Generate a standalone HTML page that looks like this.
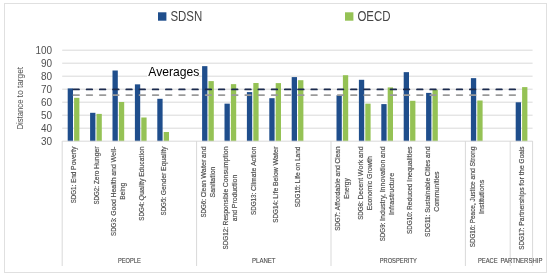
<!DOCTYPE html>
<html><head><meta charset="utf-8"><style>
html,body{margin:0;padding:0;background:#fff;}
body{width:550px;height:276px;overflow:hidden;}
svg{display:block;font-family:"Liberation Sans", sans-serif;will-change:transform;}
</style></head><body>
<svg width="550" height="276" viewBox="0 0 550 276">
<rect x="0" y="0" width="550" height="276" fill="#ffffff"/>
<rect x="4.5" y="3.5" width="542" height="269" fill="none" stroke="#e0e0e0" stroke-width="1"/>
<line x1="62.2" y1="50.20" x2="532.6" y2="50.20" stroke="#d9d9d9" stroke-width="1"/>
<line x1="62.2" y1="63.20" x2="532.6" y2="63.20" stroke="#d9d9d9" stroke-width="1"/>
<line x1="62.2" y1="76.20" x2="532.6" y2="76.20" stroke="#d9d9d9" stroke-width="1"/>
<line x1="62.2" y1="89.20" x2="532.6" y2="89.20" stroke="#d9d9d9" stroke-width="1"/>
<line x1="62.2" y1="102.20" x2="532.6" y2="102.20" stroke="#d9d9d9" stroke-width="1"/>
<line x1="62.2" y1="115.20" x2="532.6" y2="115.20" stroke="#d9d9d9" stroke-width="1"/>
<line x1="62.2" y1="128.20" x2="532.6" y2="128.20" stroke="#d9d9d9" stroke-width="1"/>
<rect x="67.70" y="88.40" width="5.3" height="52.80" fill="#1f4e8c"/>
<rect x="74.10" y="97.80" width="5.3" height="43.40" fill="#95c255"/>
<rect x="90.10" y="112.80" width="5.3" height="28.40" fill="#1f4e8c"/>
<rect x="96.50" y="113.90" width="5.3" height="27.30" fill="#95c255"/>
<rect x="112.50" y="70.50" width="5.3" height="70.70" fill="#1f4e8c"/>
<rect x="118.90" y="102.00" width="5.3" height="39.20" fill="#95c255"/>
<rect x="134.90" y="84.35" width="5.3" height="56.85" fill="#1f4e8c"/>
<rect x="141.30" y="117.50" width="5.3" height="23.70" fill="#95c255"/>
<rect x="157.30" y="98.80" width="5.3" height="42.40" fill="#1f4e8c"/>
<rect x="163.70" y="132.00" width="5.3" height="9.20" fill="#95c255"/>
<rect x="202.10" y="66.15" width="5.3" height="75.05" fill="#1f4e8c"/>
<rect x="208.50" y="81.10" width="5.3" height="60.10" fill="#95c255"/>
<rect x="224.50" y="103.65" width="5.3" height="37.55" fill="#1f4e8c"/>
<rect x="230.90" y="84.15" width="5.3" height="57.05" fill="#95c255"/>
<rect x="246.90" y="92.10" width="5.3" height="49.10" fill="#1f4e8c"/>
<rect x="253.30" y="83.00" width="5.3" height="58.20" fill="#95c255"/>
<rect x="269.30" y="98.20" width="5.3" height="43.00" fill="#1f4e8c"/>
<rect x="275.70" y="83.10" width="5.3" height="58.10" fill="#95c255"/>
<rect x="291.70" y="77.10" width="5.3" height="64.10" fill="#1f4e8c"/>
<rect x="298.10" y="80.20" width="5.3" height="61.00" fill="#95c255"/>
<rect x="336.50" y="95.30" width="5.3" height="45.90" fill="#1f4e8c"/>
<rect x="342.90" y="75.20" width="5.3" height="66.00" fill="#95c255"/>
<rect x="358.90" y="79.80" width="5.3" height="61.40" fill="#1f4e8c"/>
<rect x="365.30" y="103.65" width="5.3" height="37.55" fill="#95c255"/>
<rect x="381.30" y="104.10" width="5.3" height="37.10" fill="#1f4e8c"/>
<rect x="387.70" y="87.40" width="5.3" height="53.80" fill="#95c255"/>
<rect x="403.70" y="72.15" width="5.3" height="69.05" fill="#1f4e8c"/>
<rect x="410.10" y="100.80" width="5.3" height="40.40" fill="#95c255"/>
<rect x="426.10" y="92.90" width="5.3" height="48.30" fill="#1f4e8c"/>
<rect x="432.50" y="89.80" width="5.3" height="51.40" fill="#95c255"/>
<rect x="470.90" y="78.15" width="5.3" height="63.05" fill="#1f4e8c"/>
<rect x="477.30" y="100.50" width="5.3" height="40.70" fill="#95c255"/>
<rect x="515.70" y="102.30" width="5.3" height="38.90" fill="#1f4e8c"/>
<rect x="522.10" y="87.10" width="5.3" height="54.10" fill="#95c255"/>
<line x1="62.2" y1="141.2" x2="532.6" y2="141.2" stroke="#d9d9d9" stroke-width="1"/>
<line x1="62.20" y1="141" x2="62.20" y2="266" stroke="#d9d9d9" stroke-width="1"/>
<line x1="196.60" y1="141" x2="196.60" y2="266" stroke="#d9d9d9" stroke-width="1"/>
<line x1="331.00" y1="141" x2="331.00" y2="266" stroke="#d9d9d9" stroke-width="1"/>
<line x1="465.40" y1="141" x2="465.40" y2="266" stroke="#d9d9d9" stroke-width="1"/>
<line x1="510.20" y1="141" x2="510.20" y2="266" stroke="#d9d9d9" stroke-width="1"/>
<line x1="532.60" y1="141" x2="532.60" y2="266" stroke="#d9d9d9" stroke-width="1"/>
<line x1="73.45" y1="89.4" x2="521.40" y2="89.4" stroke="#1b2a4e" stroke-width="1.9" stroke-linecap="round" stroke-dasharray="5.5 7.716"/>
<line x1="73.45" y1="95.1" x2="521.40" y2="95.1" stroke="#9a9a9a" stroke-width="1.8" stroke-linecap="round" stroke-dasharray="5.6 7.616"/>
<text x="52" y="53.60" font-size="10.6" text-anchor="end" fill="#505050" textLength="16.6" lengthAdjust="spacingAndGlyphs">100</text>
<text x="52" y="66.60" font-size="10.6" text-anchor="end" fill="#505050" textLength="11.1" lengthAdjust="spacingAndGlyphs">90</text>
<text x="52" y="79.60" font-size="10.6" text-anchor="end" fill="#505050" textLength="11.1" lengthAdjust="spacingAndGlyphs">80</text>
<text x="52" y="92.60" font-size="10.6" text-anchor="end" fill="#505050" textLength="11.1" lengthAdjust="spacingAndGlyphs">70</text>
<text x="52" y="105.60" font-size="10.6" text-anchor="end" fill="#505050" textLength="11.1" lengthAdjust="spacingAndGlyphs">60</text>
<text x="52" y="118.60" font-size="10.6" text-anchor="end" fill="#505050" textLength="11.1" lengthAdjust="spacingAndGlyphs">50</text>
<text x="52" y="131.60" font-size="10.6" text-anchor="end" fill="#505050" textLength="11.1" lengthAdjust="spacingAndGlyphs">40</text>
<text x="52" y="144.60" font-size="10.6" text-anchor="end" fill="#505050" textLength="11.1" lengthAdjust="spacingAndGlyphs">30</text>
<g transform="translate(23.2,129.60) rotate(-90)"><text x="0.00" y="0" font-size="8.4" fill="#505050" textLength="30.16" lengthAdjust="spacingAndGlyphs">Distance</text><text x="32.11" y="0" font-size="8.4" fill="#505050" textLength="7.44" lengthAdjust="spacingAndGlyphs">to</text><text x="41.50" y="0" font-size="8.4" fill="#505050" textLength="21.29" lengthAdjust="spacingAndGlyphs">target</text></g>
<rect x="158" y="12.3" width="8.4" height="8.4" fill="#1f4e8c"/>
<text x="170.4" y="20.7" font-size="14" fill="#454545" textLength="31.8" lengthAdjust="spacingAndGlyphs">SDSN</text>
<rect x="345" y="12.3" width="8.4" height="8.4" fill="#95c255"/>
<text x="357.4" y="20.7" font-size="14" fill="#454545" textLength="33.1" lengthAdjust="spacingAndGlyphs">OECD</text>
<rect x="147" y="64" width="51.5" height="17" fill="#ffffff" fill-opacity="0.75"/>
<text x="148.3" y="75.6" font-size="13.2" fill="#000000" textLength="51" lengthAdjust="spacingAndGlyphs">Averages</text>
<g transform="translate(76.30,203.36) rotate(-90)" stroke="#505050" stroke-width="0.18"><text x="0.00" y="0" font-size="7.6" fill="#505050" textLength="18.55" lengthAdjust="spacingAndGlyphs">SDG1:</text><text x="20.24" y="0" font-size="7.6" fill="#505050" textLength="11.50" lengthAdjust="spacingAndGlyphs">End</text><text x="33.44" y="0" font-size="7.6" fill="#505050" textLength="23.42" lengthAdjust="spacingAndGlyphs">Poverty</text></g>
<g transform="translate(98.70,204.58) rotate(-90)" stroke="#505050" stroke-width="0.18"><text x="0.00" y="0" font-size="7.6" fill="#505050" textLength="18.55" lengthAdjust="spacingAndGlyphs">SDG2:</text><text x="20.24" y="0" font-size="7.6" fill="#505050" textLength="13.78" lengthAdjust="spacingAndGlyphs">Zero</text><text x="35.71" y="0" font-size="7.6" fill="#505050" textLength="22.37" lengthAdjust="spacingAndGlyphs">Hunger</text></g>
<g transform="translate(116.30,235.99) rotate(-90)" stroke="#505050" stroke-width="0.18"><text x="0.00" y="0" font-size="7.6" fill="#505050" textLength="18.55" lengthAdjust="spacingAndGlyphs">SDG3:</text><text x="20.24" y="0" font-size="7.6" fill="#505050" textLength="16.53" lengthAdjust="spacingAndGlyphs">Good</text><text x="38.46" y="0" font-size="7.6" fill="#505050" textLength="20.11" lengthAdjust="spacingAndGlyphs">Health</text><text x="60.27" y="0" font-size="7.6" fill="#505050" textLength="11.44" lengthAdjust="spacingAndGlyphs">and</text><text x="73.39" y="0" font-size="7.6" fill="#505050" textLength="16.10" lengthAdjust="spacingAndGlyphs">Well-</text></g>
<g transform="translate(125.20,199.72) rotate(-90)" stroke="#505050" stroke-width="0.18"><text x="0.00" y="0" font-size="7.6" fill="#505050" textLength="16.96" lengthAdjust="spacingAndGlyphs">Being</text></g>
<g transform="translate(143.50,220.63) rotate(-90)" stroke="#505050" stroke-width="0.18"><text x="0.00" y="0" font-size="7.6" fill="#505050" textLength="18.55" lengthAdjust="spacingAndGlyphs">SDG4:</text><text x="20.24" y="0" font-size="7.6" fill="#505050" textLength="21.86" lengthAdjust="spacingAndGlyphs">Quality</text><text x="43.80" y="0" font-size="7.6" fill="#505050" textLength="30.34" lengthAdjust="spacingAndGlyphs">Education</text></g>
<g transform="translate(165.90,215.47) rotate(-90)" stroke="#505050" stroke-width="0.18"><text x="0.00" y="0" font-size="7.6" fill="#505050" textLength="18.55" lengthAdjust="spacingAndGlyphs">SDG5:</text><text x="20.24" y="0" font-size="7.6" fill="#505050" textLength="22.63" lengthAdjust="spacingAndGlyphs">Gender</text><text x="44.57" y="0" font-size="7.6" fill="#505050" textLength="24.41" lengthAdjust="spacingAndGlyphs">Equality</text></g>
<g transform="translate(205.90,217.57) rotate(-90)" stroke="#505050" stroke-width="0.18"><text x="0.00" y="0" font-size="7.6" fill="#505050" textLength="18.55" lengthAdjust="spacingAndGlyphs">SDG6:</text><text x="20.24" y="0" font-size="7.6" fill="#505050" textLength="16.93" lengthAdjust="spacingAndGlyphs">Clean</text><text x="38.87" y="0" font-size="7.6" fill="#505050" textLength="19.08" lengthAdjust="spacingAndGlyphs">Water</text><text x="59.64" y="0" font-size="7.6" fill="#505050" textLength="11.44" lengthAdjust="spacingAndGlyphs">and</text></g>
<g transform="translate(214.80,197.45) rotate(-90)" stroke="#505050" stroke-width="0.18"><text x="0.00" y="0" font-size="7.6" fill="#505050" textLength="30.83" lengthAdjust="spacingAndGlyphs">Sanitation</text></g>
<g transform="translate(228.30,249.43) rotate(-90)" stroke="#505050" stroke-width="0.18"><text x="0.00" y="0" font-size="7.6" fill="#505050" textLength="22.34" lengthAdjust="spacingAndGlyphs">SDG12:</text><text x="24.03" y="0" font-size="7.6" fill="#505050" textLength="36.51" lengthAdjust="spacingAndGlyphs">Responsible</text><text x="62.23" y="0" font-size="7.6" fill="#505050" textLength="40.70" lengthAdjust="spacingAndGlyphs">Consumption</text></g>
<g transform="translate(237.20,221.29) rotate(-90)" stroke="#505050" stroke-width="0.18"><text x="0.00" y="0" font-size="7.6" fill="#505050" textLength="11.44" lengthAdjust="spacingAndGlyphs">and</text><text x="13.13" y="0" font-size="7.6" fill="#505050" textLength="33.53" lengthAdjust="spacingAndGlyphs">Production</text></g>
<g transform="translate(255.50,215.01) rotate(-90)" stroke="#505050" stroke-width="0.18"><text x="0.00" y="0" font-size="7.6" fill="#505050" textLength="22.34" lengthAdjust="spacingAndGlyphs">SDG13:</text><text x="24.03" y="0" font-size="7.6" fill="#505050" textLength="23.20" lengthAdjust="spacingAndGlyphs">Climate</text><text x="48.93" y="0" font-size="7.6" fill="#505050" textLength="19.58" lengthAdjust="spacingAndGlyphs">Action</text></g>
<g transform="translate(277.90,222.65) rotate(-90)" stroke="#505050" stroke-width="0.18"><text x="0.00" y="0" font-size="7.6" fill="#505050" textLength="22.34" lengthAdjust="spacingAndGlyphs">SDG14:</text><text x="24.03" y="0" font-size="7.6" fill="#505050" textLength="10.86" lengthAdjust="spacingAndGlyphs">Life</text><text x="36.58" y="0" font-size="7.6" fill="#505050" textLength="18.80" lengthAdjust="spacingAndGlyphs">Below</text><text x="57.07" y="0" font-size="7.6" fill="#505050" textLength="19.08" lengthAdjust="spacingAndGlyphs">Water</text></g>
<g transform="translate(300.30,207.22) rotate(-90)" stroke="#505050" stroke-width="0.18"><text x="0.00" y="0" font-size="7.6" fill="#505050" textLength="22.34" lengthAdjust="spacingAndGlyphs">SDG15:</text><text x="24.03" y="0" font-size="7.6" fill="#505050" textLength="10.86" lengthAdjust="spacingAndGlyphs">Life</text><text x="36.58" y="0" font-size="7.6" fill="#505050" textLength="7.87" lengthAdjust="spacingAndGlyphs">on</text><text x="46.14" y="0" font-size="7.6" fill="#505050" textLength="14.58" lengthAdjust="spacingAndGlyphs">Land</text></g>
<g transform="translate(340.30,230.81) rotate(-90)" stroke="#505050" stroke-width="0.18"><text x="0.00" y="0" font-size="7.6" fill="#505050" textLength="18.55" lengthAdjust="spacingAndGlyphs">SDG7:</text><text x="20.24" y="0" font-size="7.6" fill="#505050" textLength="32.32" lengthAdjust="spacingAndGlyphs">Affordable</text><text x="54.25" y="0" font-size="7.6" fill="#505050" textLength="11.44" lengthAdjust="spacingAndGlyphs">and</text><text x="67.38" y="0" font-size="7.6" fill="#505050" textLength="16.93" lengthAdjust="spacingAndGlyphs">Clean</text></g>
<g transform="translate(349.20,199.07) rotate(-90)" stroke="#505050" stroke-width="0.18"><text x="0.00" y="0" font-size="7.6" fill="#505050" textLength="20.82" lengthAdjust="spacingAndGlyphs">Energy</text></g>
<g transform="translate(362.70,219.82) rotate(-90)" stroke="#505050" stroke-width="0.18"><text x="0.00" y="0" font-size="7.6" fill="#505050" textLength="18.55" lengthAdjust="spacingAndGlyphs">SDG8:</text><text x="20.24" y="0" font-size="7.6" fill="#505050" textLength="21.65" lengthAdjust="spacingAndGlyphs">Decent</text><text x="43.58" y="0" font-size="7.6" fill="#505050" textLength="16.61" lengthAdjust="spacingAndGlyphs">Work</text><text x="61.88" y="0" font-size="7.6" fill="#505050" textLength="11.44" lengthAdjust="spacingAndGlyphs">and</text></g>
<g transform="translate(371.60,210.27) rotate(-90)" stroke="#505050" stroke-width="0.18"><text x="0.00" y="0" font-size="7.6" fill="#505050" textLength="29.48" lengthAdjust="spacingAndGlyphs">Economic</text><text x="31.17" y="0" font-size="7.6" fill="#505050" textLength="23.05" lengthAdjust="spacingAndGlyphs">Growth</text></g>
<g transform="translate(385.10,241.26) rotate(-90)" stroke="#505050" stroke-width="0.18"><text x="0.00" y="0" font-size="7.6" fill="#505050" textLength="18.55" lengthAdjust="spacingAndGlyphs">SDG9:</text><text x="20.24" y="0" font-size="7.6" fill="#505050" textLength="26.97" lengthAdjust="spacingAndGlyphs">Industry,</text><text x="48.90" y="0" font-size="7.6" fill="#505050" textLength="32.73" lengthAdjust="spacingAndGlyphs">Innovation</text><text x="83.32" y="0" font-size="7.6" fill="#505050" textLength="11.44" lengthAdjust="spacingAndGlyphs">and</text></g>
<g transform="translate(394.00,214.97) rotate(-90)" stroke="#505050" stroke-width="0.18"><text x="0.00" y="0" font-size="7.6" fill="#505050" textLength="42.19" lengthAdjust="spacingAndGlyphs">Infrastructure</text></g>
<g transform="translate(412.30,233.95) rotate(-90)" stroke="#505050" stroke-width="0.18"><text x="0.00" y="0" font-size="7.6" fill="#505050" textLength="22.34" lengthAdjust="spacingAndGlyphs">SDG10:</text><text x="24.03" y="0" font-size="7.6" fill="#505050" textLength="26.46" lengthAdjust="spacingAndGlyphs">Reduced</text><text x="52.18" y="0" font-size="7.6" fill="#505050" textLength="35.27" lengthAdjust="spacingAndGlyphs">Inequalities</text></g>
<g transform="translate(429.90,236.88) rotate(-90)" stroke="#505050" stroke-width="0.18"><text x="0.00" y="0" font-size="7.6" fill="#505050" textLength="22.34" lengthAdjust="spacingAndGlyphs">SDG11:</text><text x="24.03" y="0" font-size="7.6" fill="#505050" textLength="34.96" lengthAdjust="spacingAndGlyphs">Sustainable</text><text x="60.69" y="0" font-size="7.6" fill="#505050" textLength="16.57" lengthAdjust="spacingAndGlyphs">Cities</text><text x="78.94" y="0" font-size="7.6" fill="#505050" textLength="11.44" lengthAdjust="spacingAndGlyphs">and</text></g>
<g transform="translate(438.80,211.85) rotate(-90)" stroke="#505050" stroke-width="0.18"><text x="0.00" y="0" font-size="7.6" fill="#505050" textLength="40.32" lengthAdjust="spacingAndGlyphs">Communities</text></g>
<g transform="translate(474.70,247.26) rotate(-90)" stroke="#505050" stroke-width="0.18"><text x="0.00" y="0" font-size="7.6" fill="#505050" textLength="22.34" lengthAdjust="spacingAndGlyphs">SDG16:</text><text x="24.03" y="0" font-size="7.6" fill="#505050" textLength="19.93" lengthAdjust="spacingAndGlyphs">Peace,</text><text x="45.66" y="0" font-size="7.6" fill="#505050" textLength="20.35" lengthAdjust="spacingAndGlyphs">Justice</text><text x="67.69" y="0" font-size="7.6" fill="#505050" textLength="11.44" lengthAdjust="spacingAndGlyphs">and</text><text x="80.82" y="0" font-size="7.6" fill="#505050" textLength="19.94" lengthAdjust="spacingAndGlyphs">Strong</text></g>
<g transform="translate(483.60,214.08) rotate(-90)" stroke="#505050" stroke-width="0.18"><text x="0.00" y="0" font-size="7.6" fill="#505050" textLength="34.40" lengthAdjust="spacingAndGlyphs">Institutions</text></g>
<g transform="translate(524.30,249.72) rotate(-90)" stroke="#505050" stroke-width="0.18"><text x="0.00" y="0" font-size="7.6" fill="#505050" textLength="22.34" lengthAdjust="spacingAndGlyphs">SDG17:</text><text x="24.03" y="0" font-size="7.6" fill="#505050" textLength="38.25" lengthAdjust="spacingAndGlyphs">Partnerships</text><text x="63.97" y="0" font-size="7.6" fill="#505050" textLength="8.83" lengthAdjust="spacingAndGlyphs">for</text><text x="74.49" y="0" font-size="7.6" fill="#505050" textLength="10.16" lengthAdjust="spacingAndGlyphs">the</text><text x="86.34" y="0" font-size="7.6" fill="#505050" textLength="16.88" lengthAdjust="spacingAndGlyphs">Goals</text></g>
<text x="129.40" y="263.2" font-size="7.5" text-anchor="middle" fill="#505050" stroke="#505050" stroke-width="0.15" textLength="22.9" lengthAdjust="spacingAndGlyphs">PEOPLE</text>
<text x="263.80" y="263.2" font-size="7.5" text-anchor="middle" fill="#505050" stroke="#505050" stroke-width="0.15" textLength="23.5" lengthAdjust="spacingAndGlyphs">PLANET</text>
<text x="398.20" y="263.2" font-size="7.5" text-anchor="middle" fill="#505050" stroke="#505050" stroke-width="0.15" textLength="37.1" lengthAdjust="spacingAndGlyphs">PROSPERITY</text>
<text x="487.80" y="263.2" font-size="7.5" text-anchor="middle" fill="#505050" stroke="#505050" stroke-width="0.15" textLength="19.6" lengthAdjust="spacingAndGlyphs">PEACE</text>
<text x="521.40" y="263.2" font-size="7.5" text-anchor="middle" fill="#505050" stroke="#505050" stroke-width="0.15" textLength="42.0" lengthAdjust="spacingAndGlyphs">PARTNERSHIP</text>
</svg>
</body></html>
